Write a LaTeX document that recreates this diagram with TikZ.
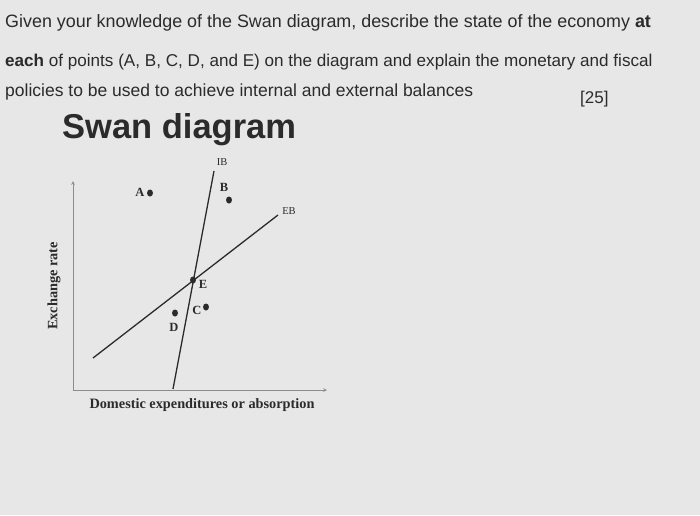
\documentclass[tikz,border=0pt]{standalone}
\usepackage{fontspec}
\setmainfont{Liberation Sans}
\newfontfamily\timesfont{Liberation Serif}
\usetikzlibrary{positioning}
\definecolor{paper}{HTML}{E7E7E7}
\definecolor{axisgray}{HTML}{8C8C8C}
\definecolor{ink}{HTML}{2B2B2B}
\tikzset{
  qtext/.style={anchor=base west,inner sep=0pt,text=ink},
  curve/.style={ink,line width=1.3pt},
  axisline/.style={axisgray,line width=0.7pt,-{stealth[length=7pt,width=5pt]}},
  ptlabel/.style={inner sep=0pt,text=ink,font=\timesfont\bfseries\fontsize{12.5}{13}\selectfont},
  axislabel/.style={inner sep=0pt,text=ink,font=\timesfont\bfseries\fontsize{14.3}{15}\selectfont},
  dot/.style={ellipse,fill=ink,inner sep=0pt,minimum width=6pt,minimum height=7pt}
}
\usetikzlibrary{shapes.geometric,arrows.meta}
\begin{document}
\begin{tikzpicture}[x=1pt,y=-1pt]
            \fill[paper] (0,0) rectangle (700,515);
            \useasboundingbox (0,0) rectangle (700,515);
            % question
            \node[qtext,font=\fontsize{17.9}{20}\selectfont] (line1) at (5,27) {Given your knowledge of the Swan diagram, describe the state of the economy \textbf{at}};
            \node[qtext,font=\fontsize{17.1}{20}\selectfont] (line2) at (5,66) {\textbf{each} of points (A, B, C, D, and E) on the diagram and explain the monetary and fiscal};
            \node[qtext,font=\fontsize{17.5}{20}\selectfont] (line3) at (5,96) {policies to be used to achieve internal and external balances};
            \node[qtext,font=\fontsize{17}{20}\selectfont] (marks) at (580,103) {[25]};
            \node[anchor=base west,inner sep=0pt,text=ink,font=\bfseries\fontsize{34.5}{36}\selectfont] (title) at (62,138) {Swan diagram};
            % axes
            \coordinate (origin) at (73,390);
            \coordinate (ytop) at (73,181);
            \coordinate (xend) at (327,390);
            \draw[axisline] (origin) -- (ytop);
            \draw[axisline] (origin) -- (xend);
            \node[axislabel,rotate=90] (ylab) at (54,286) {Exchange rate};
            \node[axislabel] (xlab) at (202,405) {Domestic expenditures or absorption};
            % balance lines
            \coordinate (ibLow) at (173,389);
            \coordinate (ibHigh) at (214,171);
            \coordinate (ebLow) at (93,358);
            \coordinate (ebHigh) at (278,215);
            \draw[curve] (ibLow) -- (ibHigh);
            \draw[curve] (ebLow) -- (ebHigh);
            \node[ptlabel,font=\timesfont\fontsize{10.5}{11}\selectfont] (ibLab) at (222,162) {IB};
            \node[ptlabel,font=\timesfont\fontsize{10.5}{11}\selectfont] (ebLab) at (289,211) {EB};
            % points
            \node[dot] (ptE) at (193,280) {};
            \node[ptlabel] (labE) at (203,284) {E};
            \node[dot] (ptA) at (150,193) {};
            \node[ptlabel] (labA) at (140,192) {A};
            \node[dot] (ptB) at (229,200) {};
            \node[ptlabel] (labB) at (224,187) {B};
            \node[dot] (ptC) at (206,307) {};
            \node[ptlabel] (labC) at (197,310) {C};
            \node[dot] (ptD) at (175,313) {};
            \node[ptlabel] (labD) at (174,327) {D};
        \end{tikzpicture}
\end{document}
